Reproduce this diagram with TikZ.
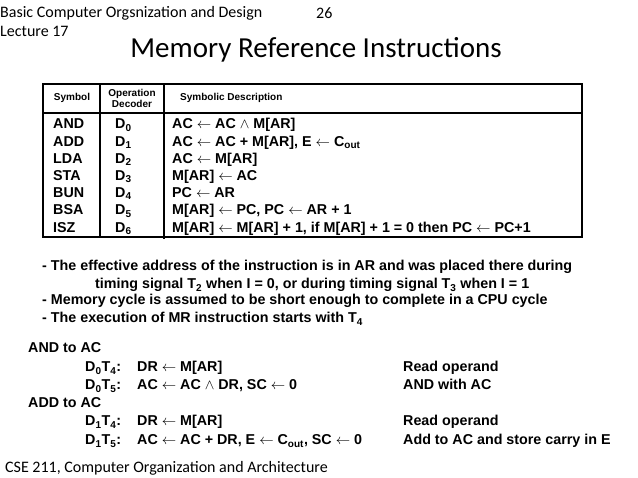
\documentclass[tikz,border=0pt]{standalone}
\usepackage{fontspec}
\usepackage{amssymb}
\setmainfont{Liberation Sans}
\newfontfamily\calfont{Carlito}
\newcommand{\sbs}[1]{\textsubscript{#1}}
\begin{document}
\begin{tikzpicture}[x=1pt,y=-1pt,
  t/.style={anchor=base west,inner sep=0pt,font=\fontsize{14.3}{16}\selectfont\bfseries},
  h/.style={anchor=center,inner sep=0pt,font=\fontsize{10}{11}\selectfont\bfseries,align=center},
  c/.style={anchor=west,inner sep=0pt,font=\calfont\fontsize{16}{18}\selectfont}]
\useasboundingbox (0,0) rectangle (638,478);
\node[c] (h1) at (0,13) {Basic Computer Orgsnization and Design};
\node[c] (h2) at (316,13) {26};
\node[c] (h3) at (0,31) {Lecture 17};
\node[anchor=center,inner sep=0pt,font=\calfont\fontsize{29}{31}\selectfont] (title) at (316,50) {Memory Reference Instructions};
% table
\draw[line width=1.6pt] (43,84) rectangle (582,237);
\draw[line width=1.2pt] (43,113) -- (582,113);
\draw[line width=1.4pt] (100,84) -- (100,237);
\draw[line width=1.4pt] (164,84) -- (164,239);
\node[h] (hs) at (72,98) {Symbol};
\node[h] (hd) at (132,98) {Operation\\Decoder};
\node[h,anchor=west] (hsd) at (180,98) {Symbolic Description};
\foreach \n/\s/\d [count=\i from 0] in {
 AND/0/{AC $\leftarrow$ AC $\wedge$ M[AR]},
 ADD/1/{AC $\leftarrow$ AC + M[AR], E $\leftarrow$ C\sbs{out}},
 LDA/2/{AC $\leftarrow$ M[AR]},
 STA/3/{M[AR] $\leftarrow$ AC},
 BUN/4/{PC $\leftarrow$ AR},
 BSA/5/{M[AR] $\leftarrow$ PC, PC $\leftarrow$ AR + 1},
 ISZ/6/{M[AR] $\leftarrow$ M[AR] + 1, if M[AR] + 1 = 0 then PC $\leftarrow$ PC+1}}{
  \node[t] (s\i) at (53,129+17.2*\i) {\n};
  \node[t] (d\i) at (115,129+17.2*\i) {D\sbs{\s}};
  \node[t] (e\i) at (172,129+17.2*\i) {\d};
}
\node[t] (n1) at (42,271) {- The effective address of the instruction is in AR and was placed there during};
\node[t] (n2) at (95,289) {timing signal T\sbs{2} when I = 0, or during timing signal T\sbs{3} when I = 1};
\node[t] (n3) at (42,305) {- Memory cycle is assumed to be short enough to complete in a CPU cycle};
\node[t] (n4) at (42,323) {- The execution of MR instruction starts with T\sbs{4}};
\node[t] (a0) at (28,353) {AND to AC};
\node[t] (a1) at (85,372) {D\sbs{0}T\sbs{4}:};
\node[t] (a2) at (137,372) {DR $\leftarrow$ M[AR]};
\node[t] (a3) at (403,372) {Read operand};
\node[t] (a4) at (85,390) {D\sbs{0}T\sbs{5}:};
\node[t] (a5) at (137,390) {AC $\leftarrow$ AC $\wedge$ DR, SC $\leftarrow$ 0};
\node[t] (a6) at (403,390) {AND with AC};
\node[t] (b0) at (28,408) {ADD to AC};
\node[t] (b1) at (85,426) {D\sbs{1}T\sbs{4}:};
\node[t] (b2) at (137,426) {DR $\leftarrow$ M[AR]};
\node[t] (b3) at (403,426) {Read operand};
\node[t] (b4) at (85,445) {D\sbs{1}T\sbs{5}:};
\node[t] (b5) at (137,445) {AC $\leftarrow$ AC + DR, E $\leftarrow$ C\sbs{out}, SC $\leftarrow$ 0};
\node[t] (b6) at (403,445) {Add to AC and store carry in E};
\node[c] (foot) at (5,468) {CSE 211, Computer Organization and Architecture};
\end{tikzpicture}
\end{document}
